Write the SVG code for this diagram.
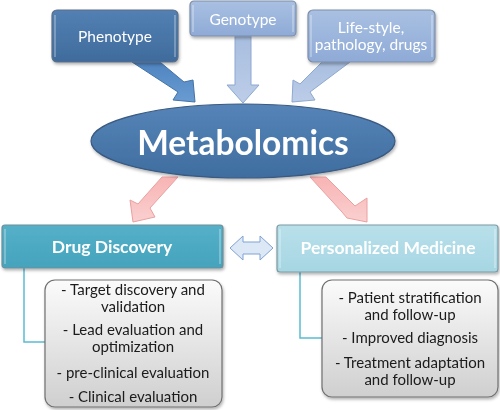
<svg xmlns="http://www.w3.org/2000/svg" width="500" height="410" viewBox="0 0 500 410">
<style>
.t{font-family:Lato,"Open Sans","Liberation Sans",sans-serif;text-anchor:middle}
.w{fill:#fff}
.b{font-weight:bold}
.list{fill:#1a1a1a;font-size:15px}
.conn{fill:none;stroke:#5bbcd3;stroke-width:1.5}
.hl{fill:none;stroke:#ffffff;stroke-opacity:0.45;stroke-width:1.2}
</style>
<defs>
<linearGradient id="gDark" x1="0" y1="0" x2="0" y2="1"><stop offset="0" stop-color="#5380b3"/><stop offset="1" stop-color="#3f6b9c"/></linearGradient>
<linearGradient id="gLight" x1="0" y1="0" x2="0" y2="1"><stop offset="0" stop-color="#a9c0e2"/><stop offset="1" stop-color="#8eaad6"/></linearGradient>
<linearGradient id="gEll" x1="0" y1="0" x2="0" y2="1"><stop offset="0" stop-color="#5684b8"/><stop offset="1" stop-color="#3f6d9f"/></linearGradient>
<linearGradient id="gTeal" x1="0" y1="0" x2="0" y2="1"><stop offset="0" stop-color="#55b0c8"/><stop offset="1" stop-color="#45a3bd"/></linearGradient>
<linearGradient id="gPale" x1="0" y1="0" x2="0" y2="1"><stop offset="0" stop-color="#b8e0ea"/><stop offset="1" stop-color="#a6d6e3"/></linearGradient>
<linearGradient id="gGray" x1="0" y1="0" x2="0" y2="1"><stop offset="0" stop-color="#fbfbfb"/><stop offset="1" stop-color="#cfcfcf"/></linearGradient>
<linearGradient id="gArrB" x1="0" y1="0" x2="0" y2="1"><stop offset="0" stop-color="#4e84c0"/><stop offset="1" stop-color="#6a9cd2"/></linearGradient>
<linearGradient id="gArrL" x1="0" y1="0" x2="0" y2="1"><stop offset="0" stop-color="#a8bedf"/><stop offset="1" stop-color="#bccde8"/></linearGradient>
<linearGradient id="gPink" x1="0" y1="0" x2="0" y2="1"><stop offset="0" stop-color="#f8b4b4"/><stop offset="1" stop-color="#fad0d0"/></linearGradient>
<filter id="sh" x="-10%" y="-10%" width="130%" height="140%"><feDropShadow dx="1" dy="2" stdDeviation="1.5" flood-color="#000" flood-opacity="0.3"/></filter>
</defs>
<rect width="500" height="410" fill="#fff"/>

<g id="connectors">
<path d="M132,62 L160,62 L184,82 L193,80 L195,102 L173,100 L178,92 Z" fill="url(#gArrB)" stroke="#4672a6" stroke-width="1"/>
<path d="M235,36 L251,36 L251,85 L259,85 L243,103 L227,85 L235,85 Z" fill="url(#gArrL)" stroke="#8ea8d0" stroke-width="1"/>
<path d="M322,62 L350,62 L310,92 L315,100 L292,102 L293,80 L300,84 Z" fill="url(#gArrL)" stroke="#8ea8d0" stroke-width="1"/>
<path d="M162,177 L178,177 L150,208 L155,217 L133,222 L130,200 L138,204 Z" fill="url(#gPink)" stroke="#eaa0a0" stroke-width="1"/>
<path d="M310,177 L326,177 L355,206 L367,198 L367,222 L347,218 L342,212 Z" fill="url(#gPink)" stroke="#eaa0a0" stroke-width="1"/>
<path d="M230,248 L243,236 L243,242 L260,242 L260,236 L273,248 L260,260 L260,254 L243,254 L243,260 Z" fill="#dde8f6" stroke="#7fa3d2" stroke-width="1"/>
<path class="conn" d="M24,268 V342 H45"/>
<path class="conn" d="M300,272 V338 H322"/>
</g>

<g id="phenotype" filter="url(#sh)">
<rect x="52" y="10" width="126" height="52" rx="5" fill="url(#gDark)" stroke="#5d6f86" stroke-width="1.2"/>
<path class="hl" d="M55,15 V57 M175,15 V57"/>
<text class="t w" x="115" y="42" font-size="15.5">Phenotype</text>
</g>
<g id="genotype" filter="url(#sh)">
<rect x="190" y="1" width="106" height="35" rx="4" fill="url(#gLight)" stroke="#7d8ea6" stroke-width="1.2"/>
<path class="hl" d="M193,5 V32 M293,5 V32"/>
<text class="t w" x="243" y="25" font-size="15.5">Genotype</text>
</g>
<g id="lifestyle" filter="url(#sh)">
<rect x="308" y="10" width="127" height="52" rx="5" fill="url(#gLight)" stroke="#7d8ea6" stroke-width="1.2"/>
<path class="hl" d="M311,15 V57 M432,15 V57"/>
<text class="t w" x="371" y="33" font-size="15.5">Life-style,</text>
<text class="t w" x="371" y="50" font-size="15.5">pathology, drugs</text>
</g>

<g id="metabolomics" filter="url(#sh)">
<ellipse cx="243" cy="141" rx="152" ry="37" fill="url(#gEll)" stroke="#3a5a80" stroke-width="1.2"/>
<text class="t w b" x="243" y="155" font-size="33.5">Metabolomics</text>
</g>

<g id="drug-discovery" filter="url(#sh)">
<rect x="2" y="225" width="221" height="43" rx="3" fill="url(#gTeal)" stroke="#6f8f98" stroke-width="1.2"/>
<path class="hl" d="M5,229 V264 M220,229 V264"/>
<text class="t w b" x="112" y="253" font-size="17.5">Drug Discovery</text>
</g>
<g id="personalized-medicine" filter="url(#sh)">
<rect x="277" y="225" width="221" height="47" rx="3" fill="url(#gPale)" stroke="#7f9aa2" stroke-width="1.2"/>
<path class="hl" d="M280,229 V268 M495,229 V268"/>
<text class="t w b" x="388" y="254" font-size="17.5">Personalized Medicine</text>
</g>

<g id="drug-list" filter="url(#sh)">
<rect x="45" y="280" width="177" height="127" rx="10" fill="url(#gGray)" stroke="#707070" stroke-width="1.2"/>
<text class="t list" x="133" y="295">- Target discovery and</text>
<text class="t list" x="133" y="312">validation</text>
<text class="t list" x="133" y="335">- Lead evaluation and</text>
<text class="t list" x="133" y="352">optimization</text>
<text class="t list" x="133" y="378">- pre-clinical evaluation</text>
<text class="t list" x="133" y="402">- Clinical evaluation</text>
</g>
<g id="medicine-list" filter="url(#sh)">
<rect x="322" y="280" width="176" height="117" rx="10" fill="url(#gGray)" stroke="#707070" stroke-width="1.2"/>
<text class="t list" x="410" y="303">- Patient stratification</text>
<text class="t list" x="410" y="320">and follow-up</text>
<text class="t list" x="410" y="343">- Improved diagnosis</text>
<text class="t list" x="410" y="368">- Treatment adaptation</text>
<text class="t list" x="410" y="385">and follow-up</text>
</g>
</svg>
